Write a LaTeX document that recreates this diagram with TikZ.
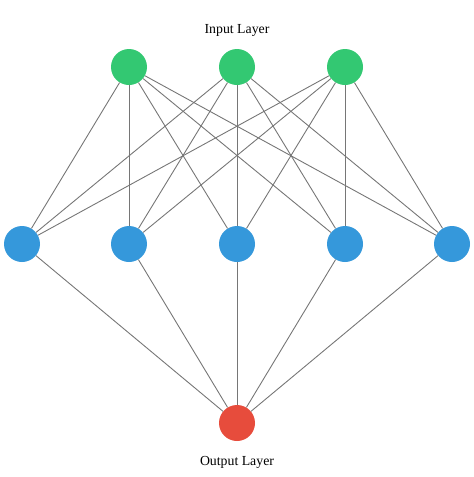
\documentclass[tikz,border=0pt]{standalone}
\usepackage{fontspec}
\setmainfont{Liberation Serif}
\usetikzlibrary{positioning}
\usepackage{xcolor}
\definecolor{ingreen}{HTML}{33C872}
\definecolor{hidblue}{HTML}{3598DB}
\definecolor{outred}{HTML}{E74C3C}
\definecolor{edgegrey}{HTML}{767676}

\begin{document}
\begin{tikzpicture}[
  x=1pt, y=-1pt,
  neuron/.style={circle, inner sep=0pt, minimum size=36pt},
  inp/.style={neuron, fill=ingreen},
  hid/.style={neuron, fill=hidblue},
  outp/.style={neuron, fill=outred},
  lbl/.style={font=\fontsize{13.8}{16}\selectfont, inner sep=0pt},
  edge/.style={edgegrey, line width=0.9pt}
]
\useasboundingbox (0,0) rectangle (474,477);
% nodes
\foreach \i/\x in {1/129,2/237,3/345}
  \node[inp] (in\i) at (\x,67) {};
\foreach \j/\x in {1/22,2/129,3/237,4/345,5/452}
  \node[hid] (h\j) at (\x,244) {};
\node[outp] (out) at (237,423) {};
\node[lbl] (intitle) at (237,30) {Input Layer};
\node[lbl] (outtitle) at (237,462) {Output Layer};

% connections
\foreach \i in {1,2,3}
  \foreach \j in {1,...,5}
    \draw[edge] (in\i) -- (h\j);
\foreach \j in {1,...,5}
  \draw[edge] (h\j) -- (out);
\end{tikzpicture}
\end{document}
